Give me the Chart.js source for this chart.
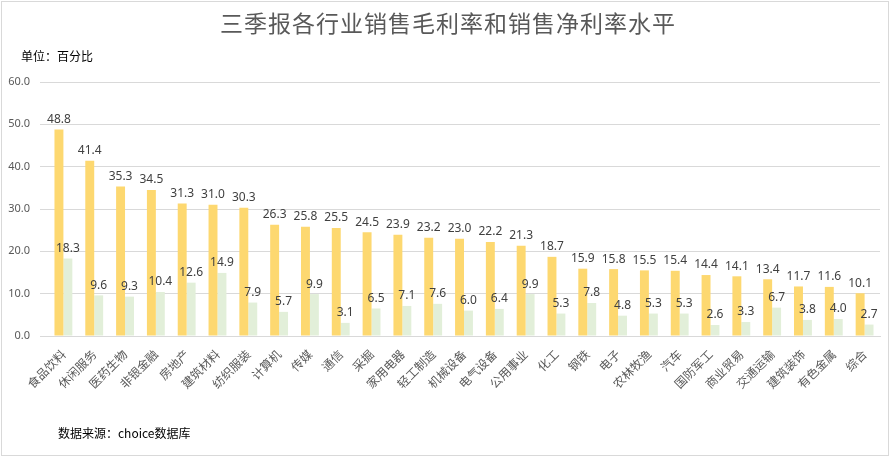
<!DOCTYPE html>
<html>
<head>
<meta charset="utf-8">
<script src="https://cdn.jsdelivr.net/npm/chart.js@4"></script>
<style>
  html, body { margin: 0; padding: 0; background: #fff; }
  #wrap { position: relative; width: 896px; height: 458px; font-family: "Noto Sans CJK SC", sans-serif; }
  #frame { position: absolute; left: 1px; top: 1px; width: 888px; height: 455px; border: 1px solid #d9d9d9; box-sizing: border-box; }
  #title { position: absolute; left: 0; top: 5px; width: 896px; text-align: center; font-size: 23px; color: #595959; letter-spacing: 1px; }
  #unit { position: absolute; left: 21px; top: 47px; font-size: 12px; color: #000; }
  #source { position: absolute; left: 58px; top: 424px; font-size: 12px; color: #000; }
  canvas { position: absolute; left: 0; top: 0; }
</style>
</head>
<body>
<div id="wrap">
  <div id="frame"></div>
  <canvas id="barChart" width="896" height="458"></canvas>
  <div id="title">三季报各行业销售毛利率和销售净利率水平</div>
  <div id="unit">单位：百分比</div>
  <div id="source">数据来源：choice数据库</div>
</div>
<script>
const industries = ["食品饮料", "休闲服务", "医药生物", "非银金融", "房地产", "建筑材料", "纺织服装", "计算机", "传媒", "通信",
  "采掘", "家用电器", "轻工制造", "机械设备", "电气设备", "公用事业", "化工", "钢铁", "电子", "农林牧渔",
  "汽车", "国防军工", "商业贸易", "交通运输", "建筑装饰", "有色金属", "综合"];

const grossMargin = [48.8, 41.4, 35.3, 34.5, 31.3, 31.0, 30.3, 26.3, 25.8, 25.5,
  24.5, 23.9, 23.2, 23.0, 22.2, 21.3, 18.7, 15.9, 15.8, 15.5,
  15.4, 14.4, 14.1, 13.4, 11.7, 11.6, 10.1];

const netMargin = [18.3, 9.6, 9.3, 10.4, 12.6, 14.9, 7.9, 5.7, 9.9, 3.1,
  6.5, 7.1, 7.6, 6.0, 6.4, 9.9, 5.3, 7.8, 4.8, 5.3,
  5.3, 2.6, 3.3, 6.7, 3.8, 4.0, 2.7];

const yTicks = [0, 10, 20, 30, 40, 50, 60];

// draws the value above every bar
const valueLabels = {
  id: "valueLabels",
  afterDatasetsDraw(chart) {
    const ctx = chart.ctx;
    ctx.save();
    ctx.font = "12px 'Noto Sans', sans-serif";
    ctx.fillStyle = "#404040";
    ctx.textAlign = "center";
    ctx.textBaseline = "bottom";
    chart.data.datasets.forEach((ds, i) => {
      chart.getDatasetMeta(i).data.forEach((bar, j) => {
        ctx.fillText(ds.data[j].toFixed(1), bar.x, bar.y - 4);
      });
    });
    ctx.restore();
  }
};

const ctx = document.getElementById("barChart").getContext("2d");
const chart = new Chart(ctx, {
  type: "bar",
  data: {
    labels: industries,
    datasets: [{
      label: "销售毛利率",
      data: grossMargin,
      backgroundColor: "#fdd870"
    }, {
      label: "销售净利率",
      data: netMargin,
      backgroundColor: "#e2efd9"
    }]
  },
  options: {
    responsive: false,
    animation: false,
    layout: { padding: { top: 82, right: 16, bottom: 30, left: 0 } },
    plugins: {
      legend: { display: false },
      tooltip: { enabled: false }
    },
    datasets: {
      bar: { categoryPercentage: 0.58, barPercentage: 1.0 }
    },
    scales: {
      x: {
        grid: { display: false },
        border: { color: "#d9d9d9" },
        ticks: {
          autoSkip: false,
          maxRotation: 45,
          minRotation: 45,
          color: "#595959",
          font: { size: 12, family: "'Noto Sans CJK SC', sans-serif" }
        },
        afterFit(scale) { scale.height = 92; }
      },
      y: {
        min: 0,
        max: 60,
        afterBuildTicks(scale) { scale.ticks = yTicks.map(v => ({ value: v })); },
        grid: { color: "#d9d9d9" },
        border: { display: false },
        ticks: {
          color: "#595959",
          font: { size: 11, family: "'Noto Sans', sans-serif" },
          padding: 10,
          callback: v => v.toFixed(1)
        },
        afterFit(scale) { scale.width = 48; }
      }
    }
  },
  plugins: [valueLabels]
});
</script>
</body>
</html>
